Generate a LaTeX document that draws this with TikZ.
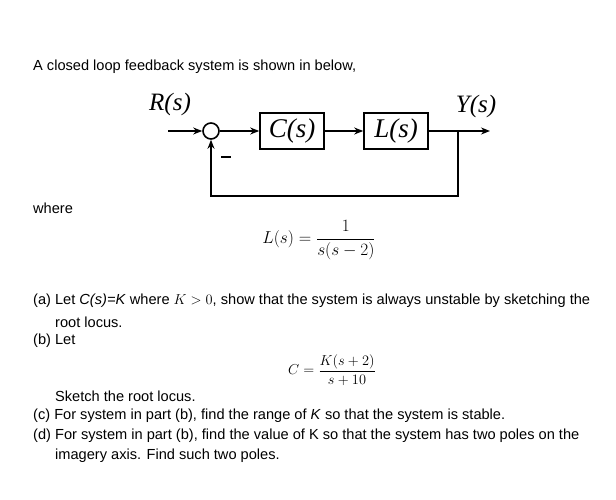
\documentclass[tikz,border=0pt]{standalone}
\usepackage{amsmath}
\usepackage{fontspec}
\setmainfont{Liberation Sans}
\newfontfamily\tnr{Liberation Serif}
\usetikzlibrary{arrows.meta}
\begin{document}
\begin{tikzpicture}[x=1pt,y=-1pt,
  txt/.style={anchor=west,inner sep=0pt,font=\fontsize{14.6}{16}\selectfont},
  blk/.style={draw,line width=1.6pt,minimum width=64pt,minimum height=36pt,inner sep=0pt,font=\tnr\fontsize{27}{29}\selectfont\itshape},
  sig/.style={line width=1.6pt,-{Stealth[length=9pt,width=7pt]}},
  lab/.style={font=\tnr\fontsize{25}{27}\selectfont\itshape,inner sep=0pt}]
\useasboundingbox (0,0) rectangle (616,500);
\node[txt] (t1) at (33,67) {A closed loop feedback system is shown in below,};
\node[circle,draw,line width=1.6pt,minimum size=16pt,inner sep=0pt] (sum) at (211,131) {};
\node[blk] (C) at (292,131) {C(s)};
\node[blk] (L) at (396,131) {L(s)};
\coordinate (in) at (168,131);
\coordinate (out) at (490,131);
\coordinate (br) at (458,131);
\coordinate (bl) at (458,196);
\coordinate (bs) at (211,196);
\draw[sig] (in) -- (sum);
\draw[sig] (sum) -- (C);
\draw[sig] (C) -- (L);
\draw[sig] (L.east) -- (out);
\draw[sig] (br) -- (bl) -- (bs) -- (sum);
\node[lab] (R) at (170,104) {R(s)};
\node[lab] (Y) at (476,106) {Y(s)};
\draw[line width=2.2pt] (221,157) -- (231,157);
\node[txt] (w) at (33,208) {where};
\node[inner sep=0pt,font=\fontsize{19}{21}\selectfont] (eq1) at (319,240) {$L(s)=\dfrac{1}{s(s-2)}$};
\node[txt] (a) at (33,301) {(a) Let \textit{C(s)=K} where $K>0$, show that the system is always unstable by sketching the};
\node[txt] (a2) at (55,322) {root locus.};
\node[txt] (b) at (33,341) {(b) Let};
\node[inner sep=0pt,font=\fontsize{14}{16}\selectfont] (eq2) at (332,370) {$C=\dfrac{K(s+2)}{s+10}$};
\node[txt] (s) at (55,396) {Sketch the root locus.};
\node[txt] (c) at (33,416) {(c) For system in part (b), find the range of \textit{K} so that the system is stable.};
\node[txt] (d) at (33,436) {(d) For system in part (b), find the value of K so that the system has two poles on the};
\node[txt] (d2) at (55,456) {imagery axis. Find such two poles.};
\end{tikzpicture}
\end{document}
